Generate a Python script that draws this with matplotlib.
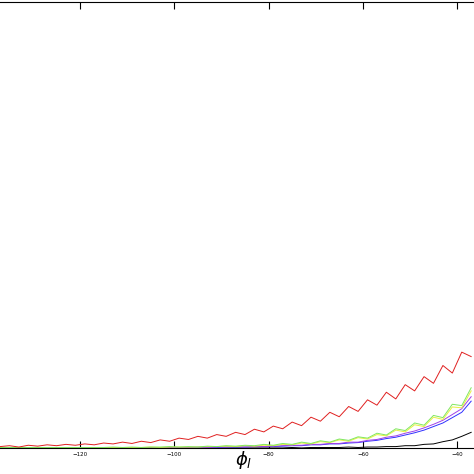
import matplotlib
matplotlib.use("Agg")
import matplotlib.pyplot as plt

phi = list(range(-137, -36, 2))
red = [0.3,0.5,0.2,0.6,0.4,0.7,0.5,0.8,0.6,0.9,
       0.7,1.1,0.9,1.3,1.0,1.5,1.2,1.8,1.5,2.2,
       1.9,2.6,2.2,3.0,2.6,3.5,3.0,4.2,3.6,4.9,
       4.3,5.8,5.0,6.9,6.0,8.0,7.0,9.3,8.2,10.8,
       9.6,12.5,11.0,14.2,12.8,16.0,14.5,18.5,16.8,21.5,
       20.5]
green = [0.1,0.1,0.1,0.1,0.1,0.1,0.1,0.1,0.1,0.1,
         0.1,0.1,0.2,0.1,0.2,0.1,0.2,0.2,0.3,0.2,
         0.3,0.2,0.4,0.3,0.5,0.4,0.6,0.5,0.8,0.6,
         1.0,0.8,1.3,1.0,1.6,1.3,2.0,1.7,2.5,2.2,
         3.3,2.9,4.3,3.9,5.6,5.1,7.3,6.8,9.8,9.5,
         13.5]
yellow = [0.1,0.1,0.1,0.1,0.1,0.1,0.1,0.1,0.1,0.1,
          0.1,0.1,0.1,0.1,0.1,0.1,0.2,0.1,0.2,0.2,
          0.2,0.2,0.3,0.3,0.4,0.3,0.5,0.4,0.6,0.5,
          0.8,0.7,1.1,0.9,1.4,1.2,1.8,1.5,2.3,2.0,
          3.0,2.7,4.0,3.6,5.2,4.8,6.9,6.4,9.2,9.0,
          12.8]
purple = [0.0,0.0,0.0,0.0,0.0,0.0,0.0,0.0,0.0,0.0,
          0.0,0.1,0.0,0.1,0.1,0.1,0.1,0.1,0.1,0.1,
          0.1,0.2,0.1,0.2,0.2,0.3,0.2,0.3,0.3,0.4,
          0.5,0.6,0.6,0.8,0.8,1.0,1.0,1.3,1.3,1.7,
          1.9,2.4,2.7,3.3,3.8,4.5,5.3,6.2,7.5,8.8,
          11.5]
blue = [0.0,0.0,0.0,0.0,0.0,0.0,0.0,0.0,0.0,0.0,
        0.0,0.0,0.1,0.0,0.1,0.1,0.1,0.1,0.1,0.1,
        0.1,0.1,0.2,0.1,0.2,0.2,0.2,0.3,0.3,0.3,
        0.4,0.5,0.5,0.7,0.7,0.9,0.9,1.1,1.2,1.5,
        1.7,2.1,2.4,2.9,3.4,4.0,4.8,5.6,6.8,8.0,
        10.5]
black = [0.0,0.0,0.0,0.0,0.0,0.0,0.0,0.0,0.0,0.0,
         0.0,0.0,0.0,0.0,0.0,0.0,0.0,0.0,0.0,0.0,
         0.0,0.0,0.0,0.0,0.0,0.0,0.0,0.0,0.0,0.0,
         0.0,0.1,0.0,0.1,0.1,0.1,0.1,0.2,0.1,0.2,
         0.2,0.3,0.3,0.5,0.5,0.8,0.9,1.4,1.8,2.6,
         3.5]
xticks = [-120, -100, -80, -60, -40]

fig = plt.figure(figsize=(4.74, 4.74), dpi=100)
ax = fig.add_axes([0.0, 0.055, 1.0, 0.94])
for ys, c in [(black, "black"), (blue, "#3030ff"), (purple, "#a040e8"),
              (yellow, "#e8f040"), (green, "#80e860"), (red, "#e02020")]:
    ax.plot(phi, ys, color=c, lw=0.7)
ax.set_xlim(-137.0, -36.4)
ax.set_ylim(0, 100)
ax.set_xticks(xticks)
ax.set_yticks([])
ax.spines["left"].set_visible(False)
ax.spines["right"].set_visible(False)
ax.tick_params(axis="x", direction="in", labelsize=4, length=5, top=True, pad=3)
fig.text(0.515, 0.007, r"$\phi_l$", fontsize=13, ha="center", va="bottom")
fig.savefig("out.png", dpi=100)
